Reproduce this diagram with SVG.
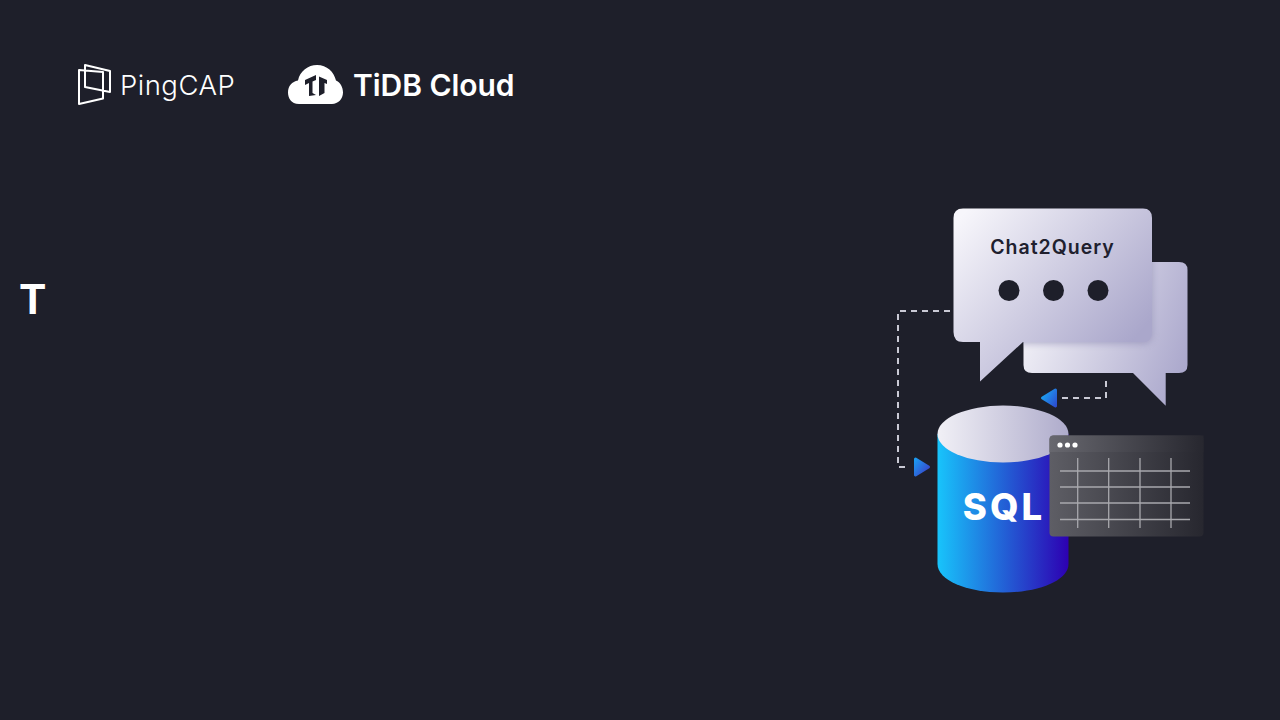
<svg xmlns="http://www.w3.org/2000/svg" width="1280" height="720" viewBox="0 0 1280 720">
<style>
.dash{fill:none;stroke:#c9c9d4;stroke-width:2;stroke-dasharray:6 5}
.grid{stroke:#a8a8ad;stroke-width:1.3;fill:none}
.logo{fill:none;stroke:#fff;stroke-width:2;stroke-linejoin:round}
.dark{fill:#1e1f2a}
text{font-family:"Inter","Liberation Sans",sans-serif}
</style>
<defs>
<linearGradient id="bub" gradientUnits="userSpaceOnUse" x1="965" y1="212" x2="1125" y2="350"><stop offset="0" stop-color="#f7f6fb"/><stop offset="1" stop-color="#aaa7cb"/></linearGradient>
<linearGradient id="bub2" gradientUnits="userSpaceOnUse" x1="1030" y1="330" x2="1185" y2="385"><stop offset="0" stop-color="#eeedf5"/><stop offset="1" stop-color="#a9a6cb"/></linearGradient>
<linearGradient id="cyl" x1="0" y1="0" x2="1" y2="0"><stop offset="0" stop-color="#18c4fb"/><stop offset="1" stop-color="#2d00b2"/></linearGradient>
<linearGradient id="top" x1="0" y1="0" x2="1" y2="0"><stop offset="0" stop-color="#f1f0f6"/><stop offset="1" stop-color="#aeabcb"/></linearGradient>
<linearGradient id="win" x1="0" y1="0" x2="1" y2="0"><stop offset="0" stop-color="#5e5e65"/><stop offset="1" stop-color="#27272f"/></linearGradient>
<linearGradient id="head" x1="0" y1="0" x2="1" y2="0"><stop offset="0" stop-color="#68686f"/><stop offset="1" stop-color="#27272f"/></linearGradient>
<linearGradient id="arrowR" gradientUnits="userSpaceOnUse" x1="914" y1="460" x2="930" y2="472"><stop offset="0" stop-color="#1b9df2"/><stop offset="1" stop-color="#3a3fc8"/></linearGradient>
<linearGradient id="arrowL" gradientUnits="userSpaceOnUse" x1="1041" y1="394" x2="1057" y2="404"><stop offset="0" stop-color="#1aa8f4"/><stop offset="1" stop-color="#2c4dd0"/></linearGradient>
<clipPath id="backclip"><path d="M1023.500 262H1187.500V373H1023.500Z"/></clipPath>
<filter id="blur" x="-10%" y="-10%" width="120%" height="120%"><feGaussianBlur stdDeviation="3"/></filter>
</defs>
<rect width="1280" height="720" fill="#1e1f2a"/>

<g id="pingcap-logo">
<path class="logo" d="M79 70V104L103 98.500V72L79 70ZM85 65L110 71V92L85 87Z"/>
<text x="120" y="95" font-size="27.500" font-weight="300" fill="#fff" letter-spacing="0.5">PingCAP</text>
</g>

<g id="tidb-cloud-logo">
<path fill="#fff" d="M299 104C291 104 288 98 288 92.500C288 86 292 81.500 298 80.500C300 71 308 65 317 65C327 65 334 72 336 80.500C340 82 343 87 343 92.500C343 99 338 104 332 104Z"/>
<path class="dark" d="M305 80L316 75V80L312.500 81.500V93L316 95L309 96V83L305 85ZM319 76.500L327 80V84L324.500 83V93L319 96Z"/>
<text x="353" y="96" font-size="30" font-weight="600" fill="#fff" letter-spacing="-0.05">TiDB Cloud</text>
</g>

<g id="title"><text x="19" y="314" font-size="41" font-weight="700" fill="#fff">T</text></g>

<g id="connectors">
<path class="dash" d="M950 311H898V467H910"/>
<path class="dash" d="M1106 381V398H1056"/>
<path fill="url(#arrowR)" stroke="url(#arrowR)" stroke-width="3" stroke-linejoin="round" d="M915.500 459L928.500 467L915.500 475Z"/>
<path fill="url(#arrowL)" stroke="url(#arrowL)" stroke-width="3" stroke-linejoin="round" d="M1055.500 390L1042.500 398L1055.500 406Z"/>
</g>

<g id="bubble-back">
<path fill="url(#bub2)" d="M1030 262H1179Q1187.500 262 1187.500 270V365Q1187.500 373 1179 373H1165.700V405.700L1133 373H1032Q1023.500 373 1023.500 365V300Z"/>
<g clip-path="url(#backclip)"><rect x="953.500" y="210" width="199" height="134" rx="9" fill="#8c89b0" opacity="0.55" filter="url(#blur)"/></g>
</g>

<g id="bubble-front">
<path fill="url(#bub)" d="M963 208.500H1143Q1152 208.500 1152 218V332Q1152 342 1143 342H1023L980 381.500V342H963Q953.500 342 953.500 332V218Q953.500 208.500 963 208.500Z"/>
<text x="1052.500" y="254" font-size="19.500" font-weight="600" fill="#20202e" text-anchor="middle" letter-spacing="1">Chat2Query</text>
<circle class="dark" cx="1009" cy="290.500" r="10.500"/>
<circle class="dark" cx="1053.500" cy="290.500" r="10.500"/>
<circle class="dark" cx="1098" cy="290.500" r="10.500"/>
</g>

<g id="sql-database">
<path fill="url(#cyl)" d="M937.500 434V564C937.500 580 966 592.500 1003 592.500C1040 592.500 1068.500 580 1068.500 564V434Z"/>
<ellipse cx="1003" cy="434" rx="65.500" ry="28.500" fill="url(#top)"/>
<text x="1004" y="520" font-size="36.500" font-weight="800" fill="#fff" text-anchor="middle" letter-spacing="3">SQL</text>
</g>

<g id="table-window">
<rect x="1049.500" y="435.500" width="154" height="101" rx="4" fill="url(#win)"/>
<path fill="url(#head)" d="M1053.500 435.500H1203.500V452H1049.500V439.500Q1049.500 435.500 1053.500 435.500Z"/>
<circle cx="1060" cy="445" r="2.600" fill="#fff"/>
<circle cx="1067.500" cy="445" r="2.600" fill="#fff"/>
<circle cx="1075" cy="445" r="2.600" fill="#fff"/>
<path class="grid" d="M1060 471H1190M1060 487H1190M1060 503H1190M1060 519.500H1190M1077.700 458V528M1108.700 458V528M1140 458V528M1171 458V528"/>
</g>
</svg>
